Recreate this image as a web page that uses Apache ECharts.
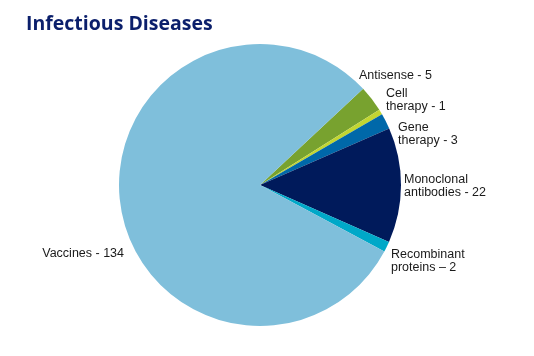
<!DOCTYPE html>
<html>
<head>
<meta charset="utf-8">
<script src="https://cdn.jsdelivr.net/npm/echarts@6/dist/echarts.min.js"></script>
<style>html,body{margin:0;padding:0;background:#fff;}#c{width:534px;height:356px;}</style>
</head>
<body>
<div id="c"></div>
<script>
var categories = ['Antisense', 'Cell therapy', 'Gene therapy', 'Monoclonal antibodies', 'Recombinant proteins', 'Vaccines'];
var values = [5, 1, 3, 22, 2, 134];
var labelTexts = ['Antisense - 5', 'Cell\ntherapy - 1', 'Gene\ntherapy - 3', 'Monoclonal\nantibodies - 22', 'Recombinant\nproteins \u2013 2', 'Vaccines - 134'];
var colors = ['#78a22f', '#c2d631', '#0068a9', '#001a5b', '#00a8c8', '#7fbfdb'];
// label anchor styling (x, y, align)
var labelAnchors = [[359, 76, 'left'], [386, 100.5, 'left'], [398, 134, 'left'], [404, 186.5, 'left'], [391, 261.5, 'left'], [124, 254, 'right']];

var chart = echarts.init(document.getElementById('c'));
chart.setOption({
  animation: false,
  title: {
    text: 'Infectious Diseases',
    left: 21, top: 9,
    textStyle: { fontFamily: 'Open Sans', fontSize: 19.5, fontWeight: 'bold', color: '#0b1f6b' }
  },
  series: [{
    type: 'pie',
    center: [260, 185],
    radius: 141,
    startAngle: 43,
    clockwise: true,
    avoidLabelOverlap: false,
    labelLine: { show: false },
    label: {
      show: true,
      position: 'outside',
      fontFamily: 'Liberation Sans',
      fontSize: 12.5,
      lineHeight: 13,
      color: '#1a1a1a',
      formatter: function (p) { return labelTexts[p.dataIndex]; }
    },
    labelLayout: function (p) {
      var a = labelAnchors[p.dataIndex];
      return { x: a[0], y: a[1], align: a[2], verticalAlign: 'middle' };
    },
    itemStyle: { borderWidth: 0 },
    emphasis: { disabled: true },
    data: categories.map(function (c, i) {
      return { name: c, value: values[i], itemStyle: { color: colors[i] } };
    })
  }]
});
</script>
</body>
</html>
